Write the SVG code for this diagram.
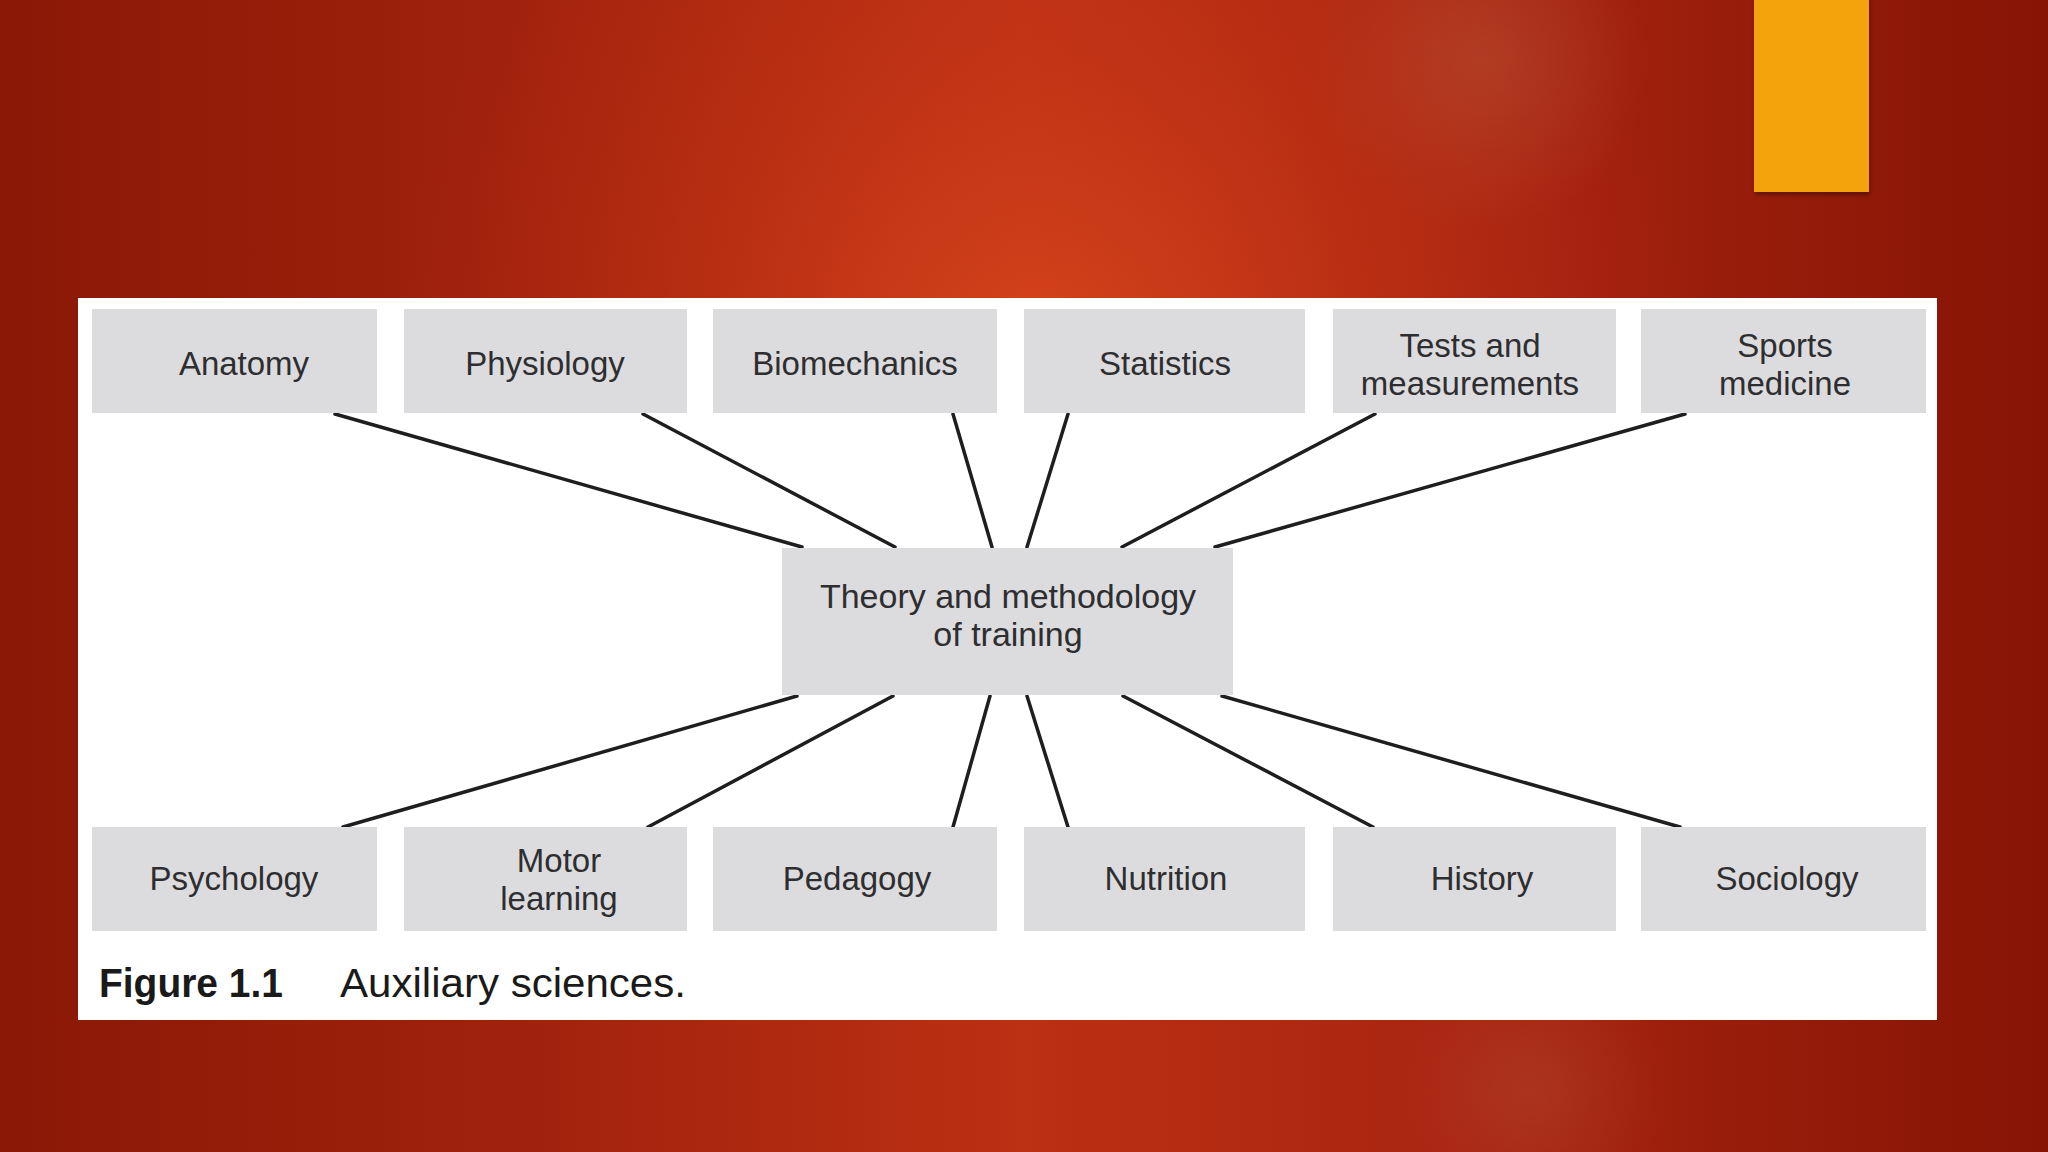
<svg xmlns="http://www.w3.org/2000/svg" width="2048" height="1152" viewBox="0 0 2048 1152">
<defs>
<linearGradient id="bgH" x1="0" y1="0" x2="1" y2="0">
<stop offset="0" stop-color="#8a1806"/>
<stop offset="0.25" stop-color="#a0220c"/>
<stop offset="0.5" stop-color="#bc3014"/>
<stop offset="0.72" stop-color="#a82410"/>
<stop offset="1" stop-color="#861405"/>
</linearGradient>
<radialGradient id="glow" cx="1040" cy="360" r="650" gradientUnits="userSpaceOnUse">
<stop offset="0" stop-color="#d8461c" stop-opacity="0.9"/>
<stop offset="0.5" stop-color="#cc3a18" stop-opacity="0.4"/>
<stop offset="1" stop-color="#c23216" stop-opacity="0"/>
</radialGradient>
<radialGradient id="spot" cx="1480" cy="60" r="170" gradientUnits="userSpaceOnUse">
<stop offset="0" stop-color="#b4462a" stop-opacity="0.7"/>
<stop offset="1" stop-color="#b4462a" stop-opacity="0"/>
</radialGradient>
<radialGradient id="spot2" cx="1530" cy="1090" r="140" gradientUnits="userSpaceOnUse">
<stop offset="0" stop-color="#b4462a" stop-opacity="0.5"/>
<stop offset="1" stop-color="#b4462a" stop-opacity="0"/>
</radialGradient>
<filter id="sh" x="-10%" y="-10%" width="120%" height="120%">
<feDropShadow dx="1" dy="3" stdDeviation="2" flood-color="#000" flood-opacity="0.35"/>
</filter>
</defs>
<style>
.box{fill:#dcdcde}
.lbl{font-family:"Liberation Sans",Arial,sans-serif;font-size:33px;fill:#2e2e30;text-anchor:middle}
.ctr{font-size:34px}
.con line{stroke:#1e1e1e;stroke-width:3.5;stroke-linecap:round}
.cap{font-family:"Liberation Sans",Arial,sans-serif;font-size:40px;fill:#1a1a1a}
</style>
<rect width="2048" height="1152" fill="url(#bgH)"/>
<rect width="2048" height="1152" fill="url(#glow)"/>
<rect width="2048" height="1152" fill="url(#spot)"/>
<rect width="2048" height="1152" fill="url(#spot2)"/>
<rect x="1754" y="-5" width="115" height="197" fill="#f5a30f" filter="url(#sh)"/>
<rect x="78" y="298" width="1859" height="722" fill="#ffffff"/>

<g id="connectors" class="con">
<line x1="335" y1="414" x2="802" y2="547"/>
<line x1="643" y1="414" x2="895" y2="547"/>
<line x1="953" y1="414" x2="992" y2="547"/>
<line x1="1068" y1="414" x2="1027" y2="547"/>
<line x1="1375" y1="414" x2="1122" y2="547"/>
<line x1="1685" y1="414" x2="1215" y2="547"/>
<line x1="343" y1="827" x2="797" y2="696"/>
<line x1="648" y1="827" x2="893" y2="696"/>
<line x1="953" y1="827" x2="990" y2="696"/>
<line x1="1068" y1="827" x2="1027" y2="696"/>
<line x1="1373" y1="827" x2="1123" y2="696"/>
<line x1="1680" y1="827" x2="1222" y2="696"/>
</g>

<g id="center">
<rect class="box" x="782" y="548" width="451" height="147"/>
<text class="lbl ctr" x="1008" y="608">Theory and methodology</text>
<text class="lbl ctr" x="1008" y="646">of training</text>
</g>

<g id="anatomy"><rect class="box" x="92" y="309" width="285" height="104"/><text class="lbl" x="244" y="375">Anatomy</text></g>
<g id="physiology"><rect class="box" x="404" y="309" width="283" height="104"/><text class="lbl" x="545" y="375">Physiology</text></g>
<g id="biomechanics"><rect class="box" x="713" y="309" width="284" height="104"/><text class="lbl" x="855" y="375">Biomechanics</text></g>
<g id="statistics"><rect class="box" x="1024" y="309" width="281" height="104"/><text class="lbl" x="1165" y="375">Statistics</text></g>
<g id="tests"><rect class="box" x="1333" y="309" width="283" height="104"/><text class="lbl" x="1470" y="357">Tests and</text><text class="lbl" x="1470" y="395">measurements</text></g>
<g id="sportsmed"><rect class="box" x="1641" y="309" width="285" height="104"/><text class="lbl" x="1785" y="357">Sports</text><text class="lbl" x="1785" y="395">medicine</text></g>

<g id="psychology"><rect class="box" x="92" y="827" width="285" height="104"/><text class="lbl" x="234" y="890">Psychology</text></g>
<g id="motor"><rect class="box" x="404" y="827" width="283" height="104"/><text class="lbl" x="559" y="872">Motor</text><text class="lbl" x="559" y="910">learning</text></g>
<g id="pedagogy"><rect class="box" x="713" y="827" width="284" height="104"/><text class="lbl" x="857" y="890">Pedagogy</text></g>
<g id="nutrition"><rect class="box" x="1024" y="827" width="281" height="104"/><text class="lbl" x="1166" y="890">Nutrition</text></g>
<g id="history"><rect class="box" x="1333" y="827" width="283" height="104"/><text class="lbl" x="1482" y="890">History</text></g>
<g id="sociology"><rect class="box" x="1641" y="827" width="285" height="104"/><text class="lbl" x="1787" y="890">Sociology</text></g>

<g id="caption">
<text class="cap" x="99" y="997" font-weight="bold" textLength="184" lengthAdjust="spacingAndGlyphs">Figure 1.1</text>
<text class="cap" x="340" y="997" textLength="346" lengthAdjust="spacingAndGlyphs">Auxiliary sciences.</text>
</g>
</svg>
